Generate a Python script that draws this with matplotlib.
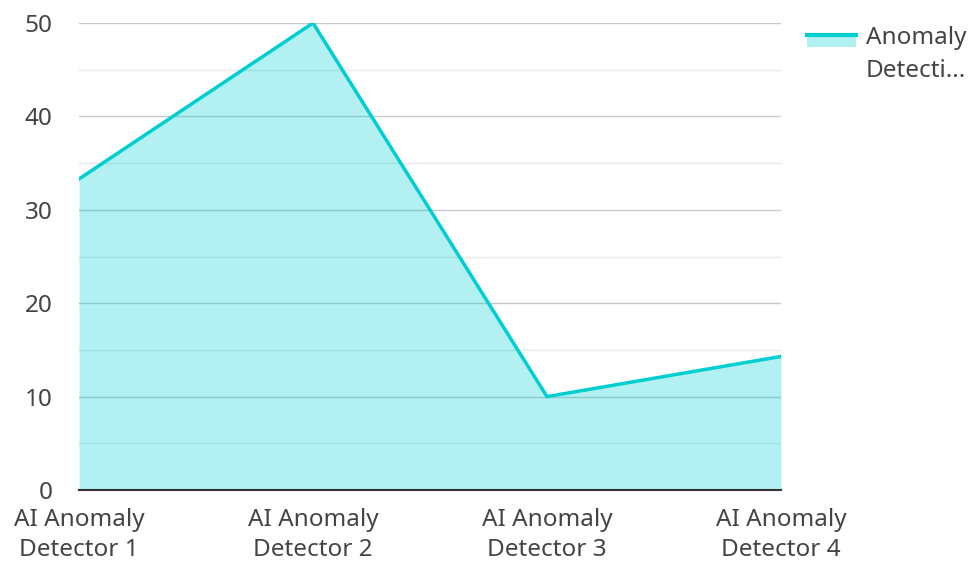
import matplotlib
matplotlib.use("Agg")
import matplotlib.pyplot as plt
from matplotlib.patches import Rectangle
from matplotlib.lines import Line2D

plt.rcParams["font.family"] = ["Noto Sans", "DejaVu Sans"]

categories = ["AI Anomaly\nDetector 1", "AI Anomaly\nDetector 2",
              "AI Anomaly\nDetector 3", "AI Anomaly\nDetector 4"]
values = [33.3, 50, 10, 14.3]
series_label = "Anomaly\nDetecti..."
yticks = [0, 10, 20, 30, 40, 50]

LINE = "#00CED1"
TEXT = "#444444"
FS = 17.5

fig = plt.figure(figsize=(9.71, 5.62), dpi=100)
ax = fig.add_axes([79 / 971, 1 - 490 / 562, (781 - 79) / 971, (490 - 23) / 562])

x = list(range(len(categories)))
ax.fill_between(x, 0, values, color=LINE, alpha=0.3, linewidth=0, zorder=2)
ax.plot(x, values, color=LINE, linewidth=2.5, zorder=3, solid_joinstyle="miter")

ax.set_xlim(0, len(categories) - 1)
ax.set_ylim(0, 50)
ax.set_xticks(x)
ax.set_xticklabels(categories, fontsize=FS, color=TEXT, linespacing=1.35)
ax.set_yticks(yticks)
ax.set_yticklabels([str(t) for t in yticks], fontsize=FS, color=TEXT)
ax.set_yticks(range(5, 50, 10), minor=True)
ax.tick_params(axis="x", length=0, pad=13)
ax.tick_params(axis="y", length=0, pad=19)
ax.tick_params(axis="y", which="minor", length=0)
ax.grid(axis="y", which="major", color="#c8c8c8", linewidth=1, zorder=1)
ax.grid(axis="y", which="minor", color="#e8e8e8", linewidth=1, zorder=1)
for s in ["top", "right", "left"]:
    ax.spines[s].set_visible(False)
ax.spines["bottom"].set_color("#333333")
ax.spines["bottom"].set_linewidth(1.5)
ax.spines["bottom"].set_zorder(4)

# legend
fig.patches.append(Rectangle((807 / 971, 1 - 47 / 562), 49 / 971, 12 / 562,
                             transform=fig.transFigure, facecolor=LINE, alpha=0.3,
                             edgecolor="none"))
fig.lines.append(Line2D([807 / 971, 856 / 971], [1 - 35 / 562, 1 - 35 / 562],
                        transform=fig.transFigure, color=LINE, linewidth=3))
fig.text(866 / 971, 1 - 26 / 562, series_label, fontsize=FS, color=TEXT,
         va="top", ha="left", linespacing=1.5)

fig.savefig("out.png", dpi=100)
